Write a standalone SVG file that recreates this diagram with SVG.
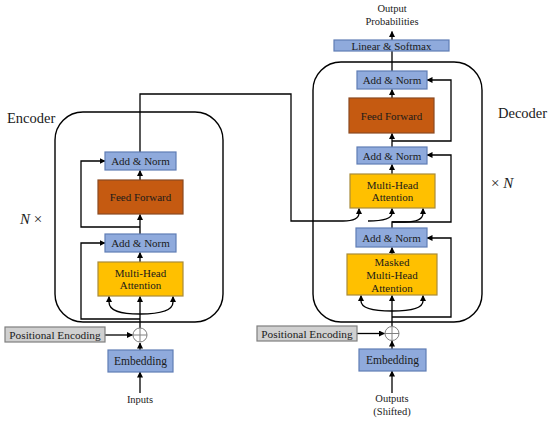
<svg xmlns="http://www.w3.org/2000/svg" width="550" height="421" viewBox="0 0 550 421">
<defs>
<marker id="ah" markerUnits="userSpaceOnUse" markerWidth="6" markerHeight="6" refX="5.5" refY="3" orient="auto">
<path d="M0,0 L6,3 L0,6 z" fill="#000"/>
</marker>
<style>
text{font-family:"Liberation Serif","Times New Roman",serif;fill:#1a1a1a;text-anchor:middle}
.t{font-size:11px}
.big{font-size:14.5px;text-anchor:start}
.an{fill:#8FAADC;stroke:#5F7DB5;stroke-width:1.2}
.ff{fill:#C55A11;stroke:#8A4A22;stroke-width:1.2}
.mha{fill:#FFC000;stroke:#A88B3A;stroke-width:1.2}
.pe{fill:#D0D0D0;stroke:#7F7F7F;stroke-width:1.2}
.blk{fill:none;stroke:#000;stroke-width:1.4}
.c{fill:none;stroke:#000;stroke-width:1.3}
.a{marker-end:url(#ah)}
.sum{fill:#fff;stroke:#808080;stroke-width:1}
</style>
</defs>

<g id="encoder-block"><rect x="55" y="112" width="168" height="210" rx="28" class="blk"/></g>
<g id="decoder-block"><rect x="313" y="62" width="169" height="260" rx="28" class="blk"/></g>

<g id="connectors">
<!-- encoder -->
<line x1="140" y1="393" x2="140" y2="372" class="c a"/>
<line x1="140" y1="350" x2="140" y2="343" class="c a"/>
<line x1="105" y1="335" x2="132.5" y2="335" class="c a"/>
<line x1="140" y1="328" x2="140" y2="296.5" class="c a"/>
<path d="M140,314 C120,314 109,311 109,302 L109,296.5" class="c a"/>
<path d="M140,314 C160,314 173,311 173,302 L173,296.5" class="c a"/>
<path d="M140,319 L81,319 L81,243 L105,243" class="c a"/>
<line x1="140" y1="262" x2="140" y2="252.5" class="c a"/>
<line x1="140" y1="234" x2="140" y2="214.5" class="c a"/>
<path d="M140,227 L81,227 L81,161 L105,161" class="c a"/>
<line x1="140" y1="180" x2="140" y2="170.5" class="c a"/>
<path d="M140,152 L140,94 L291,94 L291,221 L343,221 C353,221 359,218 359,213 L359,208.5" class="c a"/>
<path d="M368,221 C382,221 392,219 392,213 L392,208.5" class="c a"/>
<!-- decoder -->
<line x1="392" y1="393" x2="392" y2="371" class="c a"/>
<line x1="392" y1="349" x2="392" y2="341" class="c a"/>
<line x1="357" y1="333.5" x2="384.5" y2="333.5" class="c a"/>
<line x1="392" y1="326" x2="392" y2="295.5" class="c a"/>
<path d="M392,311 C372,311 361,308 361,301 L361,295.5" class="c a"/>
<path d="M392,311 C412,311 423,308 423,301 L423,295.5" class="c a"/>
<path d="M392,317 L451,317 L451,238 L427,238" class="c a"/>
<line x1="392" y1="254" x2="392" y2="247.5" class="c a"/>
<path d="M392,228 L392,222 L405,222 C416,222 423,219 423,213 L423,208.5" class="c a"/>
<path d="M392,222 L451,222 L451,155 L427,155" class="c a"/>
<line x1="392" y1="174" x2="392" y2="164.5" class="c a"/>
<line x1="392" y1="147" x2="392" y2="133.5" class="c a"/>
<path d="M392,141 L451,141 L451,80 L427,80" class="c a"/>
<line x1="392" y1="98" x2="392" y2="89.5" class="c a"/>
<line x1="392" y1="71" x2="392" y2="51" class="c"/>
<line x1="392" y1="40" x2="392" y2="31.5" class="c a"/>
</g>

<g id="enc-sum"><circle cx="140" cy="335" r="7" class="sum"/><path d="M133,335 H147 M140,328 V342" stroke="#808080" stroke-width="1"/></g>
<g id="dec-sum"><circle cx="392" cy="333.5" r="7" class="sum"/><path d="M385,333.5 H399 M392,326.5 V340.5" stroke="#808080" stroke-width="1"/></g>

<g id="enc-addnorm-2"><rect x="105" y="152" width="71" height="18" class="an"/><text x="140.5" y="165" class="t">Add &amp; Norm</text></g>
<g id="enc-feedforward"><rect x="98" y="180" width="85" height="34" class="ff"/><text x="140.5" y="201" class="t">Feed Forward</text></g>
<g id="enc-addnorm-1"><rect x="105" y="234" width="71" height="18" class="an"/><text x="140.5" y="247" class="t">Add &amp; Norm</text></g>
<g id="enc-mha"><rect x="98" y="262" width="85" height="34" class="mha"/><text x="140.5" y="277" class="t">Multi-Head</text><text x="140.5" y="289" class="t">Attention</text></g>
<g id="enc-posenc"><rect x="5" y="327" width="100" height="15" class="pe"/><text x="55" y="338.5" style="font-size:11.3px">Positional Encoding</text></g>
<g id="enc-embedding"><rect x="108" y="350" width="65" height="22" class="an"/><text x="140.5" y="365" style="font-size:11.5px">Embedding</text></g>
<g id="inputs"><text x="140" y="403" style="font-size:10.5px">Inputs</text></g>

<g id="linear-softmax"><rect x="334" y="40" width="115" height="11" class="an"/><text x="391.5" y="49.5" class="t">Linear  &amp; Softmax</text></g>
<g id="output-probs"><text x="392" y="12" style="font-size:10.5px">Output</text><text x="392" y="25" style="font-size:10.5px">Probabilities</text></g>
<g id="dec-addnorm-3"><rect x="357" y="71" width="70" height="18" class="an"/><text x="392" y="84" class="t">Add &amp; Norm</text></g>
<g id="dec-feedforward"><rect x="349" y="98" width="85" height="35" class="ff"/><text x="391.5" y="119.5" class="t">Feed Forward</text></g>
<g id="dec-addnorm-2"><rect x="357" y="147" width="70" height="17" class="an"/><text x="392" y="159.5" class="t">Add &amp; Norm</text></g>
<g id="dec-mha"><rect x="350" y="174" width="85" height="34" class="mha"/><text x="392.5" y="189" class="t">Multi-Head</text><text x="392.5" y="201" class="t">Attention</text></g>
<g id="dec-addnorm-1"><rect x="356" y="228" width="71" height="19" class="an"/><text x="391.5" y="241.5" class="t">Add &amp; Norm</text></g>
<g id="dec-masked-mha"><rect x="347" y="254" width="90" height="41" class="mha"/><text x="392" y="266" class="t">Masked</text><text x="392" y="279" class="t">Multi-Head</text><text x="392" y="292" class="t">Attention</text></g>
<g id="dec-posenc"><rect x="257" y="326" width="100" height="15" class="pe"/><text x="307" y="337.5" style="font-size:11.3px">Positional Encoding</text></g>
<g id="dec-embedding"><rect x="359" y="349" width="67" height="22" class="an"/><text x="392.5" y="364" style="font-size:11.5px">Embedding</text></g>
<g id="outputs"><text x="392" y="402" style="font-size:10.5px">Outputs</text><text x="392" y="415" style="font-size:10.5px">(Shifted)</text></g>

<g id="labels">
<text x="7" y="123" class="big">Encoder</text>
<text x="498" y="118" class="big">Decoder</text>
<text x="20" y="224" class="big" style="font-size:15px"><tspan font-style="italic">N</tspan> ×</text>
<text x="491" y="188" class="big" style="font-size:15px">× <tspan font-style="italic">N</tspan></text>
</g>
</svg>
